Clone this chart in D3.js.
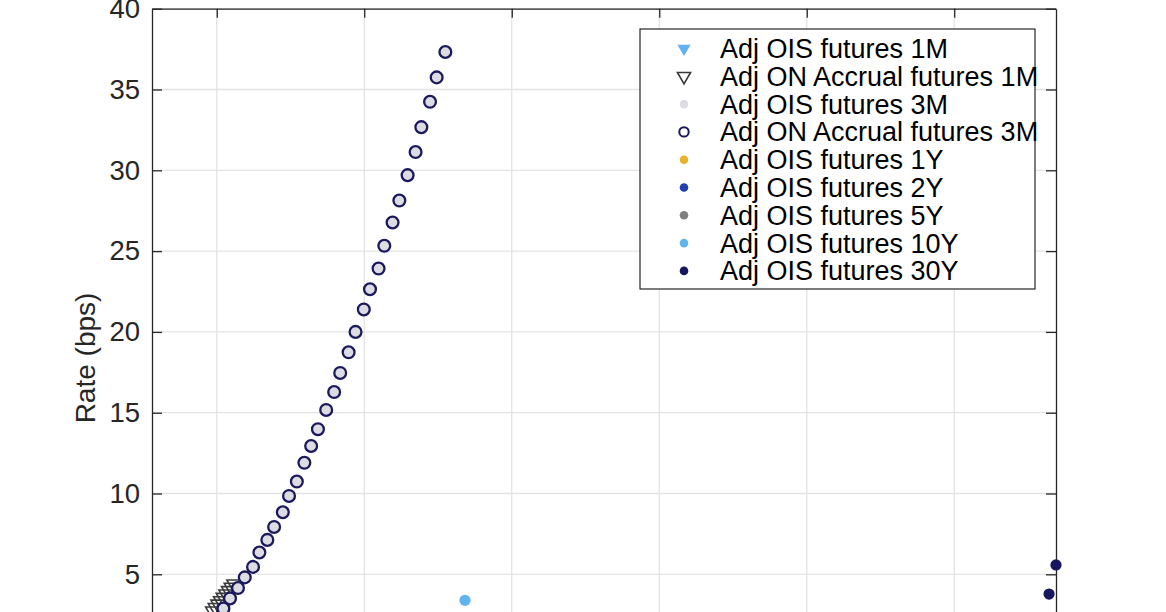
<!DOCTYPE html>
<html>
<head>
<meta charset="utf-8">
<script src="https://cdn.jsdelivr.net/npm/d3@7"></script>
<style>
  html,body{margin:0;padding:0;background:#fff;overflow:hidden;}
  svg{display:block;font-family:"Liberation Sans",Arial,Helvetica,sans-serif;}
</style>
</head>
<body>
<svg id="chart" width="1166" height="612"></svg>
<script>
// x position (grid units) and rate (bps)
const ois1M_x=[];
const ois1M_y=[];
const acc1M_x=[0.116,0.098,0.080,0.062,0.044,0.026,0.008,-0.010,-0.028];
const acc1M_y=[4.40,4.20,3.99,3.78,3.57,3.36,3.15,2.94,2.73];

const acc3M_x=[1.550,1.491,1.446,1.387,1.348,1.294,1.238,1.192,1.136,1.097,1.039,0.997,0.941,0.894,0.837,0.796,
    0.742,0.686,0.640,0.594,0.543,0.490,0.448,0.389,0.343,0.289,0.246,0.190,0.144,0.090,0.045];
const acc3M_y=[37.32,35.75,34.24,32.67,31.13,29.70,28.13,26.77,25.33,23.92,22.64,21.39,20.00,18.74,17.46,16.28,
    15.17,13.98,12.94,11.90,10.74,9.85,8.84,7.93,7.13,6.35,5.46,4.81,4.15,3.51,2.88];

const ois10Y_x=[1.683];
const ois10Y_y=[3.39];
const ois30Y_x=[5.690,5.643];
const ois30Y_y=[5.58,3.78];

const y_ticks=[5,10,15,20,25,30,35,40];
const x_ticks=[0,1,2,3,4,5];

const legend_labels=["Adj OIS futures 1M","Adj ON Accrual futures 1M","Adj OIS futures 3M","Adj ON Accrual futures 3M",
    "Adj OIS futures 1Y","Adj OIS futures 2Y","Adj OIS futures 5Y","Adj OIS futures 10Y","Adj OIS futures 30Y"];

const zip=(xs,ys)=>xs.map((x,i)=>({x:x,y:ys[i]}));

// series (the 3M OIS points sit under the ON Accrual rings)
const series=[
    {name:legend_labels[0],data:zip(ois1M_x,ois1M_y),kind:"tri",fill:"#62b0ef",stroke:"none"},
    {name:legend_labels[1],data:zip(acc1M_x,acc1M_y),kind:"tri",fill:"none",stroke:"#3a3a3a"},
    {name:legend_labels[2],data:zip(acc3M_x,acc3M_y),kind:"dot",fill:"#dcdce2",stroke:"none"},
    {name:legend_labels[3],data:zip(acc3M_x,acc3M_y),kind:"ring",fill:"none",stroke:"#1b1a5c"},
    {name:legend_labels[4],data:[],kind:"dot",fill:"#e9b42c",stroke:"none"},
    {name:legend_labels[5],data:[],kind:"dot",fill:"#2240ad",stroke:"none"},
    {name:legend_labels[6],data:[],kind:"dot",fill:"#808080",stroke:"none"},
    {name:legend_labels[7],data:zip(ois10Y_x,ois10Y_y),kind:"dot",fill:"#62b4f0",stroke:"none"},
    {name:legend_labels[8],data:zip(ois30Y_x,ois30Y_y),kind:"dot",fill:"#17175e",stroke:"none"}
];

const svg=d3.select("#chart");
const plot_left=152,plot_right=1056,plot_top=8.7,plot_bottom=703.6;
const axis_color="#262626";

const x=d3.scaleLinear().domain([-0.439,5.690]).range([plot_left,plot_right]);
const y=d3.scaleLinear().domain([-3,40]).range([plot_bottom,plot_top]);

// grid
svg.append("g").selectAll("line").data(y_ticks).join("line")
    .attr("x1",plot_left).attr("x2",plot_right)
    .attr("y1",d=>y(d)).attr("y2",d=>y(d))
    .attr("stroke","#e3e3e3").attr("stroke-width",1.3);
svg.append("g").selectAll("line").data(x_ticks).join("line")
    .attr("x1",d=>x(d)).attr("x2",d=>x(d))
    .attr("y1",plot_top).attr("y2",plot_bottom)
    .attr("stroke","#e3e3e3").attr("stroke-width",1.3);

// axes (box on, ticks inward)
const yAxisL=d3.axisLeft(y).tickValues(y_ticks).tickSizeInner(-10).tickSizeOuter(0).tickPadding(12);
const gL=svg.append("g").attr("transform",`translate(${plot_left},0)`).call(yAxisL);
gL.selectAll("text").attr("font-size",27.5).attr("fill",axis_color).attr("font-family","Liberation Sans, Arial, sans-serif");
gL.selectAll("line").attr("stroke",axis_color).attr("stroke-width",1.3);
gL.select(".domain").attr("stroke",axis_color).attr("stroke-width",1.3);

const yAxisR=d3.axisRight(y).tickValues(y_ticks).tickSizeInner(-10).tickSizeOuter(0).tickFormat("");
const gR=svg.append("g").attr("transform",`translate(${plot_right},0)`).call(yAxisR);
gR.selectAll("line").attr("stroke",axis_color).attr("stroke-width",1.3);
gR.select(".domain").attr("stroke",axis_color).attr("stroke-width",1.3);

const xAxisT=d3.axisTop(x).tickValues(x_ticks).tickSizeInner(-9).tickSizeOuter(0).tickFormat("");
const gT=svg.append("g").attr("transform",`translate(0,${plot_top})`).call(xAxisT);
gT.selectAll("line").attr("stroke",axis_color).attr("stroke-width",1.3);
gT.select(".domain").attr("stroke",axis_color).attr("stroke-width",1.3);

// y label
svg.append("text")
    .attr("transform",`translate(95,358) rotate(-90)`)
    .attr("text-anchor","middle")
    .attr("font-size",28)
    .attr("fill",axis_color)
    .text("Rate (bps)");

// markers
const triDown=d3.symbol().type(d3.symbolTriangle);
function drawMarker(g,s,size){
    if(s.kind=="tri"){
        g.append("path")
            .attr("d",triDown.size(size.tri)())
            .attr("transform","rotate(180)")
            .attr("fill",s.fill)
            .attr("stroke",s.stroke)
            .attr("stroke-width",1.6);
    }else if(s.kind=="ring"){
        g.append("circle").attr("r",size.ring)
            .attr("fill",s.fill).attr("stroke",s.stroke).attr("stroke-width",size.ring_w);
    }else{
        g.append("circle").attr("r",size.dot).attr("fill",s.fill);
    }
}

const plot_size={tri:85,ring:5.9,ring_w:2.3,dot:5.6};
for(const s of series){
    const g=svg.append("g");
    for(const d of s.data){
        const m=g.append("g").attr("transform",`translate(${x(d.x)},${y(d.y)})`);
        drawMarker(m,s,plot_size);
    }
}

// legend
const legend=svg.append("g").attr("transform","translate(640,29)");
legend.append("rect")
    .attr("width",395).attr("height",260)
    .attr("fill","white").attr("stroke",axis_color).attr("stroke-width",1.2);
const legend_size={tri:75,ring:4.7,ring_w:2,dot:4.3};
series.forEach((s,i)=>{
    const row=legend.append("g").attr("transform",`translate(0,${19.5+i*27.8})`);
    const m=row.append("g").attr("transform","translate(44,0)");
    drawMarker(m,s,legend_size);
    row.append("text")
        .attr("x",80).attr("y",0)
        .attr("dy","0.35em")
        .attr("font-size",27)
        .attr("fill","#000")
        .text(s.name);
});
</script>
</body>
</html>
